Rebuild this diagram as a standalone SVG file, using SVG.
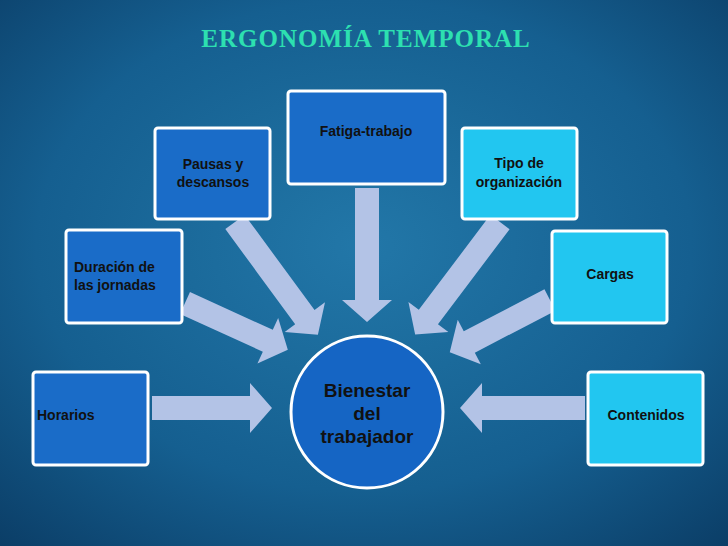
<svg xmlns="http://www.w3.org/2000/svg" width="728" height="546" viewBox="0 0 728 546">
<defs>
<radialGradient id="bg" cx="0.5" cy="0.45" r="0.75">
<stop offset="0" stop-color="#2277a8"/><stop offset="0.6" stop-color="#155f90"/><stop offset="1" stop-color="#0b3d66"/>
</radialGradient>
<style>
.box{stroke:#fff;stroke-width:3}
.dk{fill:#1a6cc8}
.lt{fill:#22c6f0}
.t{font-family:"Liberation Sans",Arial,sans-serif;font-weight:bold;font-size:14px;fill:#111;text-anchor:middle}
.s{text-anchor:start}
.arr{fill:#b3c3e6}
</style>
</defs>
<rect width="728" height="546" fill="url(#bg)"/>
<text x="366" y="47" font-family="Liberation Serif,serif" font-weight="bold" font-size="25" fill="#2de0b0" text-anchor="middle" letter-spacing="1">ERGONOMÍA TEMPORAL</text>
<g id="connectors">
<path class="arr" transform="translate(152,408)" d="M0,-12H98V-25L120,0L98,25V12H0Z"/>
<path class="arr" transform="translate(585,408) rotate(180)" d="M0,-12H103V-25L125,0L103,25V12H0Z"/>
<path class="arr" transform="translate(367,188) rotate(90)" d="M0,-12H112V-25L134,0L112,25V12H0Z"/>
<path class="arr" transform="translate(185,303) rotate(24.5)" d="M0,-12H91V-25L113,0L91,25V12H0Z"/>
<path class="arr" transform="translate(235,222) rotate(53.7)" d="M0,-12H118V-25L140,0L118,25V12H0Z"/>
<path class="arr" transform="translate(500,222) rotate(127)" d="M0,-12H119V-25L141,0L119,25V12H0Z"/>
<path class="arr" transform="translate(550,300) rotate(152.5)" d="M0,-12H91V-25L113,0L91,25V12H0Z"/>
</g>
<g id="center"><circle cx="367" cy="412" r="76" fill="#1565c4" stroke="#fff" stroke-width="3"/>
<text class="t" style="font-size:19px" x="367" y="397">Bienestar</text><text class="t" style="font-size:19px" x="367" y="420">del</text><text class="t" style="font-size:19px" x="367" y="443">trabajador</text></g>
<g id="horarios"><rect class="box dk" x="33" y="372" width="115" height="93" rx="3"/><text class="t s" x="37" y="420">Horarios</text></g>
<g id="duracion"><rect class="box dk" x="66" y="230" width="116" height="93" rx="3"/><text class="t s" x="74" y="272">Duración de</text><text class="t s" x="74" y="290">las jornadas</text></g>
<g id="pausas"><rect class="box dk" x="155" y="128" width="115" height="91" rx="3"/><text class="t" x="213" y="169">Pausas y</text><text class="t" x="213" y="187">descansos</text></g>
<g id="fatiga"><rect class="box dk" x="288" y="91" width="157" height="93" rx="3"/><text class="t" x="366" y="136">Fatiga-trabajo</text></g>
<g id="tipo"><rect class="box lt" x="462" y="128" width="115" height="91" rx="3"/><text class="t" x="519" y="168">Tipo de</text><text class="t" x="519" y="187">organización</text></g>
<g id="cargas"><rect class="box lt" x="552" y="231" width="115" height="92" rx="3"/><text class="t" x="610" y="279">Cargas</text></g>
<g id="contenidos"><rect class="box lt" x="588" y="372" width="115" height="93" rx="3"/><text class="t" x="646" y="420">Contenidos</text></g>
</svg>
